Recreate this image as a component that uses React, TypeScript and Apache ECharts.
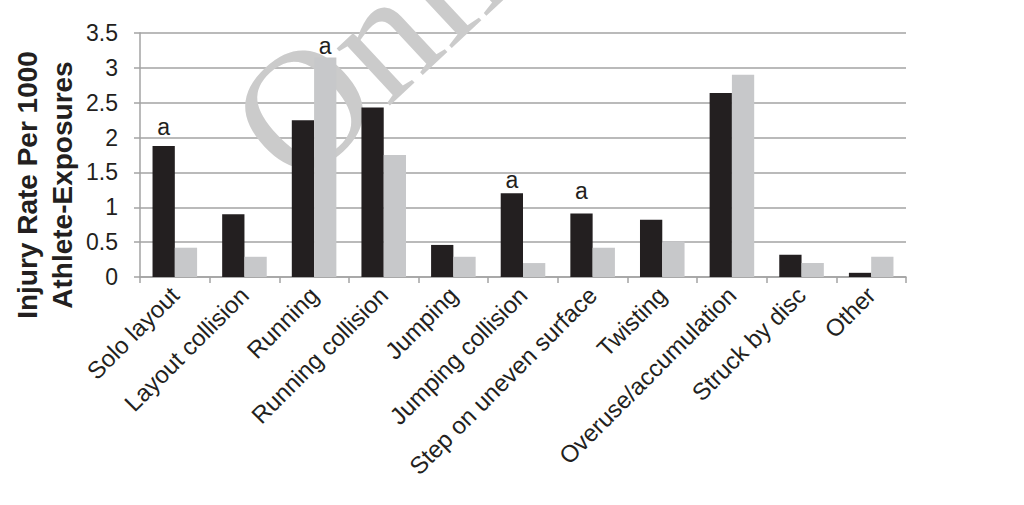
import React, { useEffect, useRef } from "react";
import * as echarts from "echarts";

const categories = [
  "Solo layout",
  "Layout collision",
  "Running",
  "Running collision",
  "Jumping",
  "Jumping collision",
  "Step on uneven surface",
  "Twisting",
  "Overuse/accumulation",
  "Struck by disc",
  "Other",
];
const seriesA = [1.88, 0.9, 2.25, 2.43, 0.46, 1.2, 0.91, 0.82, 2.64, 0.32, 0.06];
const seriesB = [0.42, 0.29, 3.15, 1.75, 0.29, 0.2, 0.42, 0.51, 2.9, 0.2, 0.29];
// significance markers: [seriesIndex, categoryIndex, label]
const markers: [number, number, string][] = [
  [0, 0, "a"],
  [1, 2, "a"],
  [0, 5, "a"],
  [0, 6, "a"],
];
const markerDistance = [7, 0, 2, 11];
const yTicks = [0, 0.5, 1, 1.5, 2, 2.5, 3, 3.5];

const FONT = "'Liberation Sans', Arial, Helvetica, sans-serif";
const DARK = "#231f20";
const GRAY = "#c7c8ca";
const LINE = "#a3a3a3";

function buildData(values: number[], sIdx: number) {
  return values.map((v, i) => {
    const mIdx = markers.findIndex((m) => m[0] === sIdx && m[1] === i);
    if (mIdx < 0) return v;
    return {
      value: v,
      label: {
        show: true,
        position: "top",
        distance: markerDistance[mIdx],
        formatter: markers[mIdx][2],
        color: DARK,
        fontSize: 23,
        fontFamily: FONT,
      },
    };
  });
}

export default function App() {
  const ref = useRef<HTMLDivElement>(null);
  useEffect(() => {
    if (!ref.current) return;
    const chart = echarts.init(ref.current, null, { renderer: "svg" });
    chart.setOption({
      animation: false,
      backgroundColor: "#ffffff",
      grid: { left: 140, right: 118, top: 33, bottom: 228, containLabel: false },
      xAxis: {
        type: "category",
        data: categories,
        axisLine: { show: true, lineStyle: { color: LINE, width: 1.5 } },
        axisTick: { show: true, length: 6, lineStyle: { color: LINE, width: 1.5 } },
        axisLabel: {
          rotate: 45,
          interval: 0,
          margin: 14,
          color: DARK,
          fontSize: 24,
          fontFamily: FONT,
        },
      },
      yAxis: {
        type: "value",
        min: 0,
        max: 3.5,
        interval: 0.5,
        axisLine: { show: true, lineStyle: { color: LINE, width: 1.5 } },
        axisTick: { show: true, length: 6, lineStyle: { color: LINE, width: 1.5 } },
        axisLabel: {
          color: DARK,
          fontSize: 23,
          fontFamily: FONT,
          margin: 22,
          formatter: (v: number) => (yTicks.includes(v) ? String(v) : ""),
        },
        splitLine: { show: true, lineStyle: { color: LINE, width: 1.5 } },
      },
      graphic: [
        {
          type: "text",
          z: 1,
          x: 258,
          y: 150,
          rotation: 0.75,
          style: {
            text: "Online",
            fill: "#cbcbcb",
            font: "170px 'Liberation Serif', 'DejaVu Serif', serif",
            align: "left",
            verticalAlign: "middle",
          },
        },
        {
          type: "text",
          z: 5,
          x: 27,
          y: 185,
          rotation: Math.PI / 2,
          style: {
            text: "Injury Rate Per 1000",
            fill: DARK,
            font: `bold 28px ${FONT}`,
            align: "center",
            verticalAlign: "middle",
          },
        },
        {
          type: "text",
          z: 5,
          x: 62,
          y: 185,
          rotation: Math.PI / 2,
          style: {
            text: "Athlete-Exposures",
            fill: DARK,
            font: `bold 28px ${FONT}`,
            align: "center",
            verticalAlign: "middle",
          },
        },
      ],
      series: [
        {
          type: "bar",
          data: buildData(seriesA, 0),
          itemStyle: { color: DARK },
          barGap: "0%",
          barCategoryGap: "36%",
          z: 3,
        },
        {
          type: "bar",
          data: buildData(seriesB, 1),
          itemStyle: { color: GRAY },
          z: 3,
        },
      ],
    });
    return () => chart.dispose();
  }, []);
  return <div ref={ref} style={{ width: 1024, height: 505, position: "absolute", left: 0, top: 0 }} />;
}
